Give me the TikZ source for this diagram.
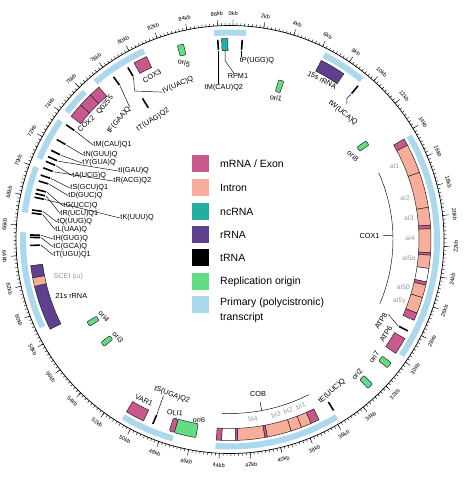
\documentclass[tikz,border=0pt]{standalone}
\usepackage{fontspec}
\setmainfont{Liberation Sans}
\usetikzlibrary{calc}
\definecolor{mrna}{HTML}{C9588F}
\definecolor{intron}{HTML}{F8AE9A}
\definecolor{ncrna}{HTML}{24AEA2}
\definecolor{rrna}{HTML}{5E408F}
\definecolor{orig}{HTML}{62DD83}
\definecolor{trans}{HTML}{ABD8EC}
\definecolor{lgray}{HTML}{9A9A9A}
\newcommand\sect[5]{\pgfmathsetmacro\angA{90-(#1)}\pgfmathsetmacro\angB{90-(#2)}%
 \draw[#5] (\angA:#3) arc[start angle=\angA, end angle=\angB, radius=#3] -- (\angB:#4) arc[start angle=\angB, end angle=\angA, radius=#4] -- cycle;}
\newcommand\trnam[2]{\pgfmathsetmacro\angA{90-(#1)}\draw[trn] (\angA:190) -- (\angA:200); \coordinate (#2) at (\angA:189);}
\newcommand\oricap[3]{\sect{#1-0.9}{#1+0.9}{#2}{#3}{oribox}}
\def\L{87}
\def\R{214}
\def\off{0.8}
\tikzset{
 feat/.style={draw=black!85, line width=0.5pt},
 band/.style={fill=trans, draw=none},
 trn/.style={line width=1.6pt, black},
 oribox/.style={fill=orig, draw=black!85, line width=0.5pt, rounded corners=0.8pt},
 lbl/.style={font=\fontsize{7.3}{8}\selectfont, inner sep=0.3pt},
 glbl/.style={font=\fontsize{6.7}{7}\selectfont, text=lgray, inner sep=0.3pt},
 tlbl/.style={font=\fontsize{5.6}{6}\selectfont, inner sep=0pt},
 tickl/.style={line width=0.4pt, black},
 leader/.style={line width=0.45pt, black},
 lgd/.style={font=\fontsize{10.5}{12}\selectfont, anchor=west, inner sep=0pt},
}
\begin{document}
\begin{tikzpicture}[x=1pt,y=1pt]
\useasboundingbox (-230,-237.5) rectangle (244,239.5);
\fill[white] (-230,-237.5) rectangle (244,239.5);
% transcripts
\sect{-4.4}{4.4}{204}{210}{band}
\sect{27}{39.5}{204}{210}{band}
\sect{60}{124}{204}{210}{band}
\sect{149}{184}{204}{210}{band}
\sect{196}{211}{204}{210}{band}
\sect{245}{272}{204}{210}{band}
\sect{277.5}{290.5}{204}{210}{band}
\sect{293}{305}{204}{210}{band}
\sect{308}{315.5}{204}{210}{band}
\sect{319.5}{335.5}{204}{210}{band}
% backbone and ticks
\draw[line width=0.7pt] (0,0) circle[radius=\R];
\pgfmathsetmacro\stepq{90/\L}
\pgfmathsetmacro\steph{360/\L}
\foreach \i in {0,...,347} {
  \pgfmathsetmacro\th{90-\off-\i*\stepq}
  \draw[tickl] (\th:\R) -- (\th:\R+2.5);
}
\foreach \k in {0,2,...,86} {
  \pgfmathsetmacro\th{\off+\k*\steph}
  \pgfmathsetmacro\ph{90-\th}
  \draw[tickl] (\ph:\R) -- (\ph:\R+6);
  \pgfmathsetmacro\rotn{mod(810-\th,180)-90}
  \node[tlbl, rotate=\rotn] (tk\k) at (\ph:\R+12) {\k kb};
}
% features
\sect{-2.4}{-0.6}{189}{201}{feat, fill=ncrna}
\sect{27}{34.5}{189}{201}{feat, fill=rrna}
% COX1
\sect{60}{62}{189}{201}{feat, fill=mrna}
\sect{62}{70.5}{189}{201}{feat, fill=intron}
\sect{70.5}{80.8}{189}{201}{feat, fill=intron}
\sect{80.8}{85.9}{189}{201}{feat, fill=intron}
\sect{85.9}{86.9}{189}{201}{feat, fill=mrna}
\sect{86.9}{93.8}{189}{201}{feat, fill=intron}
\sect{93.8}{94.5}{189}{201}{feat, fill=mrna}
\sect{94.5}{98.3}{189}{201}{feat, fill=intron}
\sect{98.3}{102.2}{189}{201}{feat, fill=white}
\sect{102.2}{103.1}{189}{201}{feat, fill=mrna}
\sect{103.1}{106.8}{189}{201}{feat, fill=intron}
\sect{106.8}{111.5}{189}{201}{feat, fill=intron}
\sect{111.5}{113.7}{189}{201}{feat, fill=mrna}
% ATP6
\sect{119.5}{124.5}{189}{201}{feat, fill=mrna}
% COB
\sect{153.7}{156.2}{189}{201}{feat, fill=mrna}
\sect{156.2}{159.2}{189}{201}{feat, fill=intron}
\sect{159.2}{162.3}{189}{201}{feat, fill=intron}
\sect{162.3}{169.3}{189}{201}{feat, fill=intron}
\sect{169.3}{170}{189}{201}{feat, fill=mrna}
\sect{170}{177.8}{189}{201}{feat, fill=intron}
\sect{177.8}{178.4}{189}{201}{feat, fill=mrna}
\sect{178.4}{182.4}{189}{201}{feat, fill=white}
\sect{182.4}{183.9}{189}{201}{feat, fill=mrna}
% OLI1 / ori6
\sect{189.8}{196.1}{187}{201}{oribox}
\sect{196.1}{197.6}{187}{201}{feat, fill=mrna, rounded corners=1.5pt}
% VAR1
\sect{205.5}{211}{189}{201}{feat, fill=mrna}
% 21s rRNA
\sect{243.5}{256.5}{189}{201}{feat, fill=rrna}
\sect{256.5}{259}{189}{201}{feat, fill=intron}
\sect{259}{262.5}{189}{201}{feat, fill=rrna}
% COX2 / Q0255
\sect{307.8}{312}{189}{201}{feat, fill=mrna}
\sect{312}{316}{189}{201}{feat, fill=mrna}
\sect{316}{319.3}{189}{201}{feat, fill=mrna}
% COX3
\sect{331.5}{335.5}{189}{201}{feat, fill=mrna}
% origins
\oricap{-14.3}{190}{201}
\oricap{17.9}{155}{167}
\oricap{54.9}{157}{168}
\oricap{128.3}{192}{203}
\oricap{136.3}{191}{203}
\oricap{230.5}{154}{165}
\oricap{239.2}{154}{165}
% tRNA marks
\trnam{-3.5}{mtMq2}
\trnam{3.5}{mtP}
\trnam{39.8}{mtW}
\trnam{117.2}{mATP8}
\trnam{148.8}{mtE}
\trnam{202.7}{mtS}
\trnam{268.3}{mtT1}
\trnam{270.6}{mtC}
\trnam{271.3}{mtH}
\trnam{277.6}{mtL}
\trnam{278.5}{mtQ}
\trnam{282.2}{mtK}
\trnam{283.3}{mtRU}
\trnam{284.5}{mtG}
\trnam{287}{mtD}
\trnam{288.8}{mtS1}
\trnam{291}{mtR2}
\trnam{293}{mtA}
\trnam{294.5}{mtI}
\trnam{296.5}{mtY}
\trnam{300}{mtN}
\trnam{305}{mtM1}
\trnam{324.4}{mtF}
\trnam{329.3}{mtV}
\draw[trn] (121.8:155) -- (121.8:166);
\coordinate (mRPM) at (91.5:189);
% brackets
\draw[leader] (24.2:163) arc[start angle=24.2, end angle=-23.2, radius=163];
\draw[leader] (1.5:163) -- (1.5:153);
\node[lbl, anchor=east] (LCOX1) at (1.5:150) {COX1};
\draw[leader] (-63:174) arc[start angle=-63, end angle=-92.6, radius=174];
\draw[leader] (-79.5:174) -- (-79.5:165);
\node[lbl] (LCOB) at (-79.7:157) {COB};
% intron labels
\node[glbl] (aI1) at (23.9:180) {aI1};
\node[glbl] (aI2) at (13.4:180) {aI2};
\node[glbl] (aI3) at (6.8:180) {aI3};
\node[glbl] (aI4) at (0.3:180) {aI4};
\node[glbl] (aI5a) at (-6:180) {aI5α};
\node[glbl] (aI5b) at (-15.6:180) {aI5β};
\node[glbl] (aI5c) at (-19.8:180) {aI5γ};
\node[glbl, rotate=7] (bI4) at (-82.7:181) {bI4};
\node[glbl, rotate=15] (bI3) at (-75.3:181) {bI3};
\node[glbl, rotate=18] (bI2) at (-71.3:181) {bI2};
\node[glbl, rotate=23] (bI1) at (-67:181) {bI1};
% labels in pixel coordinates
\begin{scope}[shift={(-230pt,239.5pt)}, y=-1pt]
 \fill[mrna] (192,155) rectangle (209,172);
 \fill[intron] (192,179) rectangle (209,196);
 \fill[ncrna] (192,203) rectangle (209,220);
 \fill[rrna] (192,226) rectangle (209,243);
 \fill[black] (192,249) rectangle (209,266);
 \fill[orig] (192,273) rectangle (209,290);
 \fill[trans] (192,296) rectangle (209,313);
 \node[lgd] (lg1) at (220,163.5) {mRNA / Exon};
 \node[lgd] (lg2) at (220,187.5) {Intron};
 \node[lgd] (lg3) at (220,211.5) {ncRNA};
 \node[lgd] (lg4) at (220,234.5) {rRNA};
 \node[lgd] (lg5) at (220,257.5) {tRNA};
 \node[lgd] (lg6) at (220,281.5) {Replication origin};
 \node[lgd] (lg7) at (220,303) {Primary (polycistronic)};
 \node[lgd] (lg8) at (220,318) {transcript};
 % tRNA cluster labels
 \node[lbl, anchor=west] (LtM1) at (93,145) {tM(CAU)Q1};
 \node[lbl, anchor=west] (LtN) at (83,155) {tN(GUU)Q};
 \node[lbl, anchor=west] (LtY) at (82,163) {tY(GUA)Q};
 \node[lbl, anchor=west] (LtI) at (118,171) {tI(GAU)Q};
 \node[lbl, anchor=west] (LtA) at (72,175.5) {tA(UCG)Q};
 \node[lbl, anchor=west] (LtR2) at (113,181) {tR(ACG)Q2};
 \node[lbl, anchor=west] (LtS1) at (70,188) {tS(GCU)Q1};
 \node[lbl, anchor=west] (LtD) at (68,195.5) {tD(GUC)Q};
 \node[lbl, anchor=west] (LtG) at (63,206) {tG(UCC)Q};
 \node[lbl, anchor=west] (LtRU) at (60,213.5) {tR(UCU)Q1};
 \node[lbl, anchor=west] (LtK) at (120,218) {tK(UUU)Q};
 \node[lbl, anchor=west] (LtQ) at (57,222) {tQ(UUG)Q};
 \node[lbl, anchor=west] (LtL) at (55,229.5) {tL(UAA)Q};
 \node[lbl, anchor=west] (LtH) at (53,239) {tH(GUG)Q};
 \node[lbl, anchor=west] (LtC) at (53,247) {tC(GCA)Q};
 \node[lbl, anchor=west] (LtT1) at (53,255) {tT(UGU)Q1};
 \node[lbl, anchor=west, text=lgray] (LSCEI) at (53,277) {SCEI (ω)};
 \node[lbl, anchor=west] (L21s) at (55,296) {21s rRNA};
 % other labels
 \node[lbl] (LtMq2) at (224,88) {tM(CAU)Q2};
 \node[lbl] (LRPM) at (238,76) {RPM1};
 \node[lbl] (LtP) at (257,61) {tP(UGG)Q};
 \node[lbl, rotate=-15] (Lori5) at (184,63) {ori5};
 \node[lbl, rotate=-12] (Lori1) at (276,98) {ori1};
 \node[lbl, rotate=-27] (L15s) at (322,80) {15s rRNA};
 \node[lbl, rotate=-39] (LtW) at (343,113) {tW(UCA)Q};
 \node[lbl, rotate=-42] (Lori8) at (353,156) {ori8};
 \node[lbl, rotate=60] (LATP8) at (381,321) {ATP8};
 \node[lbl, rotate=60] (LATP6) at (386,334) {ATP6};
 \node[lbl, rotate=56] (Lori7) at (374,357) {ori7};
 \node[lbl, rotate=50] (Lori2) at (357,374) {ori2};
 \node[lbl, rotate=42] (LtE) at (332,391) {tE(UUC)Q};
 \node[lbl, rotate=-5] (Lori6) at (199,420) {ori6};
 \node[lbl, rotate=-5] (LOLI) at (175,413) {OLI1};
 \node[lbl, rotate=-21] (LtS) at (172,395) {tS(UGA)Q2};
 \node[lbl, rotate=-25] (LVAR) at (144,400) {VAR1};
 \node[lbl, rotate=-48] (Lori3) at (118,337) {ori3};
 \node[lbl, rotate=-48] (Lori4) at (104,316) {ori4};
 \node[lbl, rotate=42] (LCOX2) at (86,124) {COX2};
 \node[lbl, rotate=50] (LQ) at (105,105) {Q0255};
 \node[lbl, rotate=50] (LtF) at (119,120) {tF(GAA)Q};
 \node[lbl, rotate=32] (LtT2) at (153,120) {tT(UAG)Q2};
 \node[lbl, rotate=30] (LCOX3) at (152,76) {COX3};
 \node[lbl, rotate=25] (LtV) at (178,85) {tV(UAC)Q};
\end{scope}
% leaders
\foreach \m/\l in {mtM1/LtM1, mtN/LtN, mtY/LtY, mtI/LtI, mtA/LtA, mtR2/LtR2, mtS1/LtS1, mtD/LtD, mtG/LtG, mtRU/LtRU, mtK/LtK, mtQ/LtQ, mtL/LtL, mtH/LtH, mtC/LtC, mtT1/LtT1}
  \draw[leader] (\m) -- (\l.west);
\draw[leader] (mtMq2) -- (mtMq2 |- LtMq2.north);
\draw[leader] (mRPM) -- ++(0,-10) -- ($(LRPM.north west)!0.3!(LRPM.north east)$);
\draw[leader] (mtP) -- (mtP |- LtP.north);
\draw[leader] (mtW) -- ++(-4,-4) -- ++(0,-6);
\draw[leader] (mtF) -- (LtF.east);
\draw[leader] (mtV) -- ++(1,-14) -- (LtV.west);
\draw[leader] (mtS) -- ($(LtS.south west)!0.3!(LtS.south east)$);
\draw[leader] (mATP8) -- (LATP8.south east);
\end{tikzpicture}
\end{document}
